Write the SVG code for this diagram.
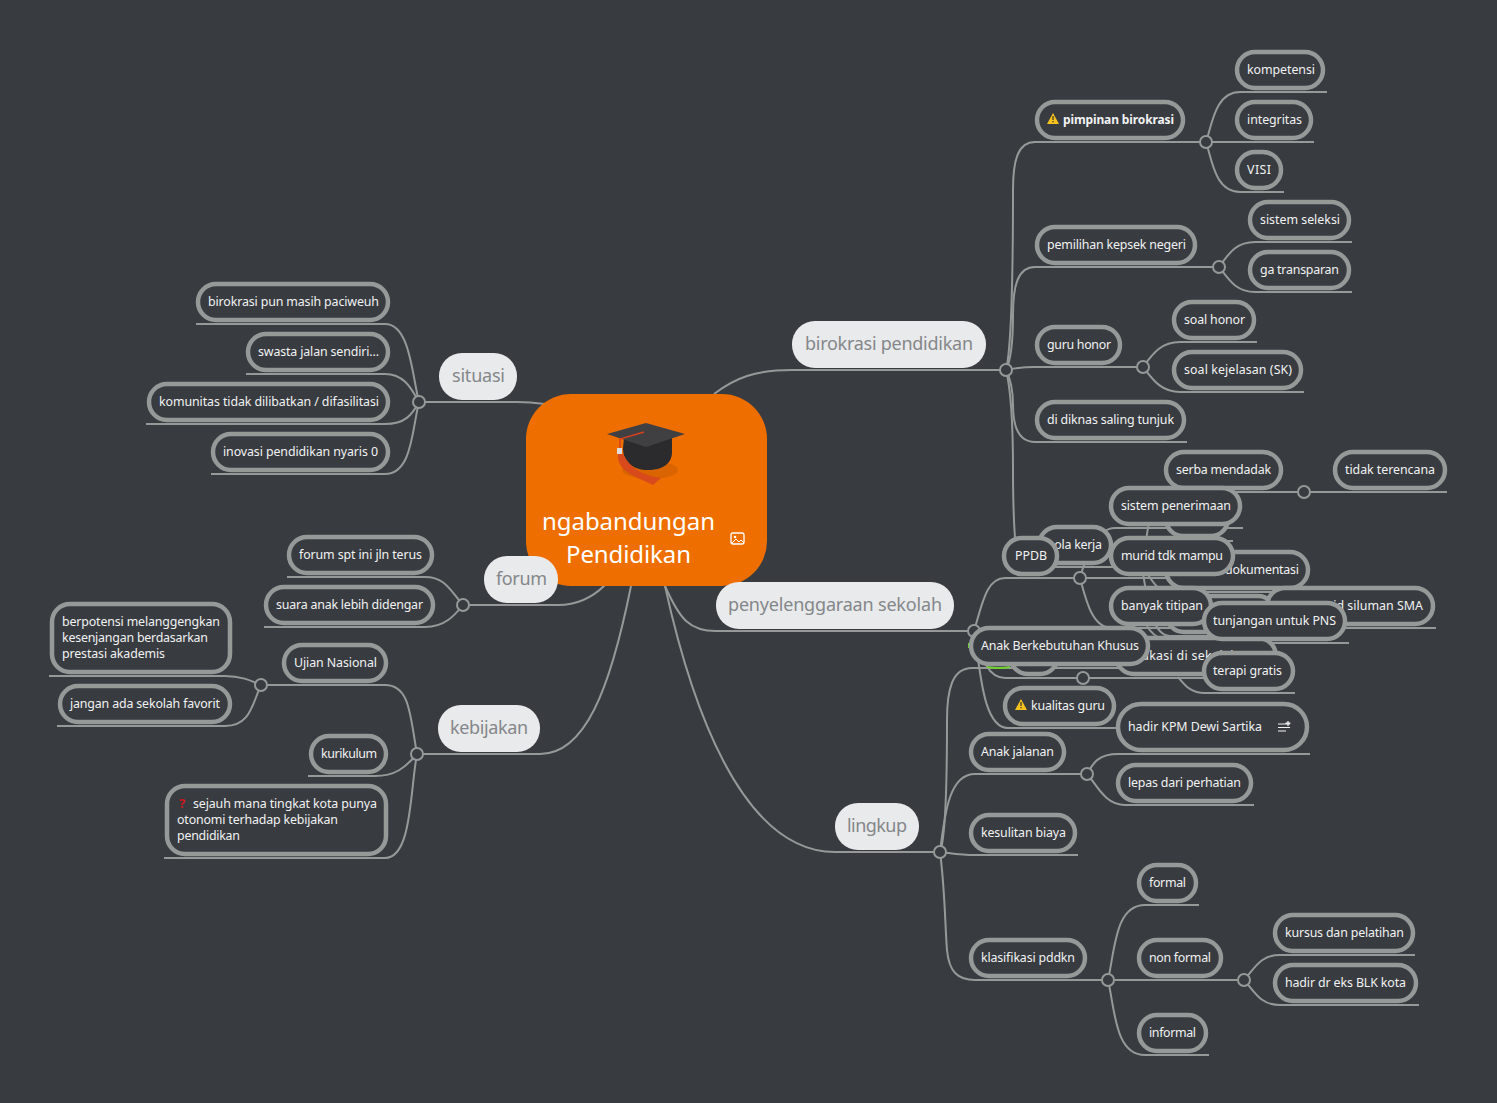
<svg xmlns="http://www.w3.org/2000/svg" width="1497" height="1103" viewBox="0 0 1497 1103">
<style>
text{font-family:"Noto Sans","Liberation Sans",sans-serif}
.p{fill:#383b40;stroke:#959998;stroke-width:4.500}
.t{font-size:12.4px;fill:#f1f2f2}
.h{font-size:18px;fill:#84878a}
.m{fill:#e9eaeb}
#links path{fill:none;stroke:#959998;stroke-width:2}
#links circle{fill:#383b40;stroke:#959998;stroke-width:2}
</style>
<rect width="1497" height="1103" fill="#383b40"/>
<g id="links">
<path d="M714 394C735 378 755 370 792 370H1006"/>
<path d="M1006 370C1011 350 1013 300 1013 190C1013 160 1018 142 1035 142H1206"/>
<path d="M1006 370C1011 360 1013 340 1013 315C1013 285 1018 267 1035 267H1219"/>
<path d="M1006 370C1015 368 1025 367 1035 367H1143"/>
<path d="M1006 370C1011 380 1013 395 1013 405C1013 430 1020 442 1035 442H1187"/>
<path d="M1006 370C1011 390 1013 420 1013 470C1013 510 1014 540 1018 567H1142"/>
<path d="M1206 142C1212 125 1215 92 1240 92H1327"/>
<path d="M1206 142H1314"/>
<path d="M1206 142C1212 160 1215 192 1240 192H1284"/>
<path d="M1219 267C1228 255 1235 242 1255 242H1352"/>
<path d="M1219 267C1228 278 1235 292 1255 292H1352"/>
<path d="M1143 367C1152 355 1160 342 1180 342H1257"/>
<path d="M1143 367C1152 378 1160 392 1180 392H1304"/>
<path d="M1142 567C1148 535 1148 492 1170 492H1447"/>
<path d="M1142 567C1146 550 1150 541 1170 541H1233"/>
<path d="M1142 567C1150 575 1155 592 1170 592H1312"/>
<path d="M1142 567C1146 590 1150 636 1170 636H1272"/>
<path d="M665 586C680 620 690 631 716 631H974"/>
<path d="M974 631C982 605 986 578 1005 578H1235"/>
<path d="M1080 578C1085 560 1095 528 1115 528H1243"/>
<path d="M1080 578C1086 600 1092 628 1112 628H1214"/>
<path d="M1214 628H1436"/>
<path d="M974 631C980 650 985 678 1005 678H1280"/>
<path d="M974 631C980 665 982 728 1008 728H1118"/>
<path d="M1118 754H1310"/>
<path d="M1147 626C1155 640 1165 643 1205 643H1349"/>
<path d="M1178 677C1185 685 1190 693 1205 693H1295"/>
<path d="M665 586C690 700 740 852 835 852H940"/>
<path d="M940 852C945 840 947 800 947 720C947 690 952 668 972 668H1150"/>
<path d="M940 852C945 810 950 774 975 774H1087"/>
<path d="M940 852C950 853 960 855 975 855H1078"/>
<path d="M940 852C945 890 945 925 947 950C949 972 958 980 975 980H1108"/>
<path d="M1087 774C1097 785 1105 805 1125 805H1254"/>
<path d="M1087 774C1092 766 1096 754 1118 754"/>
<path d="M1108 980C1115 950 1115 905 1145 905H1199"/>
<path d="M1108 980H1244"/>
<path d="M1108 980C1115 1010 1115 1055 1145 1055H1209"/>
<path d="M1244 980C1255 968 1260 955 1280 955H1415"/>
<path d="M1244 980C1255 992 1260 1005 1280 1005H1419"/>
<path d="M545 404C530 402 525 402 517 402H419"/>
<path d="M419 402C412 375 410 324 385 324H196"/>
<path d="M419 402C412 390 405 374 385 374H246"/>
<path d="M419 402C412 415 405 424 385 424H146"/>
<path d="M419 402C412 430 412 474 385 474H211"/>
<path d="M605 585C590 600 575 605 558 605H463"/>
<path d="M463 605C450 590 445 577 425 577H287"/>
<path d="M463 605C455 615 445 627 425 627H264"/>
<path d="M631 586C610 690 585 754 540 754H417"/>
<path d="M417 754C410 715 410 685 385 685H261"/>
<path d="M417 754C405 768 395 776 375 776H308"/>
<path d="M417 754C410 790 412 858 385 858H164"/>
<path d="M261 685C250 680 240 676 225 676H49"/>
<path d="M261 685C252 705 250 726 225 726H57"/>
<path d="M969 643V648M987 667Q1000 669 1010 667" style="stroke:#6fd12b"/>
<circle cx="1006" cy="370" r="6"/><circle cx="1206" cy="142" r="6"/><circle cx="1219" cy="267" r="6"/><circle cx="1143" cy="367" r="6"/><circle cx="1304" cy="492" r="6"/>
<circle cx="1080" cy="578" r="6"/><circle cx="974" cy="631" r="6"/><circle cx="1083" cy="678" r="6"/>
<circle cx="940" cy="852" r="6"/><circle cx="1087" cy="774" r="6"/><circle cx="1108" cy="980" r="6"/><circle cx="1244" cy="980" r="6"/>
<circle cx="419" cy="402" r="6"/><circle cx="463" cy="605" r="6"/><circle cx="417" cy="754" r="6"/><circle cx="261" cy="685" r="6"/>
</g>
<g id="center">
<rect x="526" y="394" width="241" height="192" rx="45" fill="#ee6f00"/>
<ellipse cx="650" cy="470" rx="28" ry="9" fill="#d96400"/>
<path d="M624 438H672V452C672 464 662 470 648 470C633 470 623 462 623 448Z" fill="#2b2b2d"/>
<polygon points="607,434 646,423 685,434 646,447" fill="#404043"/>
<path d="M644 432L620 439V450" fill="none" stroke="#d8401c" stroke-width="1.500"/>
<rect x="617" y="448" width="5" height="6" fill="#ddd"/>
<path d="M618 454C617 466 625 472 640 479L653 485L661 478C648 476 632 472 623 454Z" fill="#d84a1c"/>
<text x="628.500" y="530" text-anchor="middle" style="font-size:24px;fill:#fff" textLength="173">ngabandungan</text>
<text x="628.500" y="563" text-anchor="middle" style="font-size:24px;fill:#fff" textLength="125">Pendidikan</text>
<rect x="731" y="533" width="13" height="11" rx="2" fill="none" stroke="#fff" stroke-width="1.300"/>
<circle cx="735" cy="537" r="1.300" fill="#fff"/>
<path d="M732 543L736 539L739 542L741 540L744 543" fill="none" stroke="#fff"/>
</g>
<g id="n-birokrasi"><rect class="m" x="792" y="321" width="194" height="47" rx="23"/><text class="h" x="805" y="350" textLength="168">birokrasi pendidikan</text></g>
<g id="n-penyelenggaraan"><rect class="m" x="716" y="582" width="238" height="47" rx="23"/><text class="h" x="728" y="611" textLength="214">penyelenggaraan sekolah</text></g>
<g id="n-lingkup"><rect class="m" x="835" y="803" width="84" height="47" rx="23"/><text class="h" x="847" y="832" textLength="60">lingkup</text></g>
<g id="n-situasi"><rect class="m" x="439" y="353" width="78" height="47" rx="23"/><text class="h" x="452" y="382" textLength="53">situasi</text></g>
<g id="n-forum"><rect class="m" x="484" y="556" width="74" height="47" rx="23"/><text class="h" x="496" y="585" textLength="51">forum</text></g>
<g id="n-kebijakan"><rect class="m" x="438" y="705" width="102" height="47" rx="23"/><text class="h" x="450" y="734" textLength="78">kebijakan</text></g>

<g id="n1"><rect class="p" x="1237" y="52" width="86" height="36" rx="18"/><text class="t" x="1247" y="74" textLength="68">kompetensi</text></g>
<g id="n2"><rect class="p" x="1237" y="102" width="74" height="36" rx="18"/><text class="t" x="1247" y="124" textLength="55">integritas</text></g>
<g id="n3"><rect class="p" x="1237" y="152" width="44" height="36" rx="18"/><text class="t" x="1247" y="174" textLength="24">VISI</text></g>
<g id="n4"><rect class="p" x="1037" y="102" width="146" height="36" rx="18"/><path d="M1053 113L1059 124H1047Z" fill="#f6c21c"/><rect x="1052.400" y="116" width="1.200" height="4" fill="#333"/><rect x="1052.400" y="121" width="1.200" height="1.300" fill="#333"/><text class="t" x="1063" y="124" textLength="111" style="font-weight:700;font-size:12px">pimpinan birokrasi</text></g>
<g id="n5"><rect class="p" x="1037" y="227" width="158" height="36" rx="18"/><text class="t" x="1047" y="249" textLength="139">pemilihan kepsek negeri</text></g>
<g id="n6"><rect class="p" x="1250" y="202" width="99" height="36" rx="18"/><text class="t" x="1260" y="224" textLength="80">sistem seleksi</text></g>
<g id="n7"><rect class="p" x="1250" y="252" width="99" height="36" rx="18"/><text class="t" x="1260" y="274" textLength="79">ga transparan</text></g>
<g id="n8"><rect class="p" x="1037" y="327" width="83" height="36" rx="18"/><text class="t" x="1047" y="349" textLength="64">guru honor</text></g>
<g id="n9"><rect class="p" x="1174" y="302" width="80" height="36" rx="18"/><text class="t" x="1184" y="324" textLength="61">soal honor</text></g>
<g id="n10"><rect class="p" x="1174" y="352" width="127" height="36" rx="18"/><text class="t" x="1184" y="374" textLength="108">soal kejelasan (SK)</text></g>
<g id="n11"><rect class="p" x="1037" y="402" width="147" height="36" rx="18"/><text class="t" x="1047" y="424" textLength="127">di diknas saling tunjuk</text></g>
<g id="n12"><rect class="p" x="1166" y="452" width="115" height="36" rx="18"/><text class="t" x="1176" y="474" textLength="95">serba mendadak</text></g>
<g id="n13"><rect class="p" x="1335" y="452" width="110" height="36" rx="18"/><text class="t" x="1345" y="474" textLength="90">tidak terencana</text></g>
<g id="n14"><rect class="p" x="1166" y="502" width="62" height="34" rx="17"/></g>
<g id="n15"><rect class="p" x="1039" y="527" width="72" height="36" rx="18"/><text class="t" x="1047" y="549" textLength="55">pola kerja</text></g>
<g id="n16"><rect class="p" x="1166" y="552" width="142" height="36" rx="18"/><text class="t" x="1225" y="574" textLength="74">dokumentasi</text></g>
<g id="n17"><rect class="p" x="1166" y="596" width="110" height="36" rx="18"/></g>
<g id="n18"><rect class="p" x="1267" y="588" width="166" height="36" rx="18"/><text class="t" x="1277" y="610" textLength="146">2000 murid siluman SMA</text></g>
<g id="n19"><rect class="p" x="1111" y="488" width="129" height="36" rx="18"/><text class="t" x="1121" y="510" textLength="110">sistem penerimaan</text></g>
<g id="n20"><rect class="p" x="1004" y="538" width="53" height="36" rx="18"/><text class="t" x="1015" y="560" textLength="32">PPDB</text></g>
<g id="n21"><rect class="p" x="1111" y="538" width="122" height="36" rx="18"/><text class="t" x="1121" y="560" textLength="102">murid tdk mampu</text></g>
<g id="n22"><rect class="p" x="1111" y="588" width="100" height="36" rx="18"/><text class="t" x="1121" y="610" textLength="82">banyak titipan</text></g>
<g id="n23"><rect class="p" x="1010" y="638" width="48" height="36" rx="18"/></g>
<g id="n24"><rect class="p" x="1116" y="638" width="160" height="36" rx="18"/><text class="t" x="1126" y="660" textLength="112">edukasi di sekolah</text></g>
<g id="n25"><rect class="p" x="971" y="628" width="177" height="36" rx="18"/><text class="t" x="981" y="650" textLength="158">Anak Berkebutuhan Khusus</text></g>
<g id="n26"><rect class="p" x="1204" y="603" width="141" height="36" rx="18"/><text class="t" x="1213" y="625" textLength="123">tunjangan untuk PNS</text></g>
<g id="n27"><rect class="p" x="1204" y="653" width="89" height="36" rx="18"/><text class="t" x="1213" y="675" textLength="69">terapi gratis</text></g>
<g id="n28"><rect class="p" x="1005" y="688" width="109" height="36" rx="18"/><path d="M1021 699L1027 710H1015Z" fill="#f6c21c"/><rect x="1020.400" y="702" width="1.200" height="4" fill="#333"/><rect x="1020.400" y="707" width="1.200" height="1.300" fill="#333"/><text class="t" x="1031" y="710" textLength="74">kualitas guru</text></g>
<g id="n29"><rect class="p" x="1118" y="704" width="189" height="46" rx="23"/><text class="t" x="1128" y="731" textLength="134">hadir KPM Dewi Sartika</text><path d="M1278 724H1290M1278 727.500H1290M1278 731H1286M1288 726V721M1285.500 723H1290.500" fill="none" stroke="#f1f2f2" stroke-width="1.200"/></g>
<g id="n30"><rect class="p" x="971" y="734" width="93" height="36" rx="18"/><text class="t" x="981" y="756" textLength="73">Anak jalanan</text></g>
<g id="n31"><rect class="p" x="1118" y="765" width="133" height="36" rx="18"/><text class="t" x="1128" y="787" textLength="113">lepas dari perhatian</text></g>
<g id="n32"><rect class="p" x="971" y="815" width="104" height="36" rx="18"/><text class="t" x="981" y="837" textLength="85">kesulitan biaya</text></g>
<g id="n33"><rect class="p" x="1139" y="865" width="57" height="36" rx="18"/><text class="t" x="1149" y="887" textLength="37">formal</text></g>
<g id="n34"><rect class="p" x="1139" y="940" width="82" height="36" rx="18"/><text class="t" x="1149" y="962" textLength="62">non formal</text></g>
<g id="n35"><rect class="p" x="1139" y="1015" width="67" height="36" rx="18"/><text class="t" x="1149" y="1037" textLength="47">informal</text></g>
<g id="n36"><rect class="p" x="971" y="940" width="114" height="36" rx="18"/><text class="t" x="981" y="962" textLength="94">klasifikasi pddkn</text></g>
<g id="n37"><rect class="p" x="1275" y="915" width="138" height="36" rx="18"/><text class="t" x="1285" y="937" textLength="119">kursus dan pelatihan</text></g>
<g id="n38"><rect class="p" x="1275" y="965" width="141" height="36" rx="18"/><text class="t" x="1285" y="987" textLength="121">hadir dr eks BLK kota</text></g>

<g id="n39"><rect class="p" x="198" y="284" width="190" height="36" rx="18"/><text class="t" x="208" y="306" textLength="171">birokrasi pun masih paciweuh</text></g>
<g id="n40"><rect class="p" x="248" y="334" width="140" height="36" rx="18"/><text class="t" x="258" y="356" textLength="121">swasta jalan sendiri...</text></g>
<g id="n41"><rect class="p" x="149" y="384" width="239" height="36" rx="18"/><text class="t" x="159" y="406" textLength="220">komunitas tidak dilibatkan / difasilitasi</text></g>
<g id="n42"><rect class="p" x="213" y="434" width="175" height="36" rx="18"/><text class="t" x="223" y="456" textLength="155">inovasi pendidikan nyaris 0</text></g>
<g id="n43"><rect class="p" x="289" y="537" width="143" height="36" rx="18"/><text class="t" x="299" y="559" textLength="123">forum spt ini jln terus</text></g>
<g id="n44"><rect class="p" x="266" y="587" width="167" height="36" rx="18"/><text class="t" x="276" y="609" textLength="147">suara anak lebih didengar</text></g>
<g id="n45"><rect class="p" x="52" y="604" width="178" height="68" rx="18"/><text class="t" x="62" y="626" textLength="158">berpotensi melanggengkan</text><text class="t" x="62" y="642" textLength="146">kesenjangan berdasarkan</text><text class="t" x="62" y="658" textLength="103">prestasi akademis</text></g>
<g id="n46"><rect class="p" x="60" y="686" width="170" height="36" rx="18"/><text class="t" x="70" y="708" textLength="150">jangan ada sekolah favorit</text></g>
<g id="n47"><rect class="p" x="284" y="645" width="102" height="36" rx="18"/><text class="t" x="294" y="667" textLength="83">Ujian Nasional</text></g>
<g id="n48"><rect class="p" x="311" y="736" width="75" height="36" rx="18"/><text class="t" x="321" y="758" textLength="56">kurikulum</text></g>
<g id="n49"><rect class="p" x="167" y="786" width="219" height="68" rx="18"/><text x="179" y="808" style="font-size:13px;font-weight:700;fill:#cc1a1a">?</text><text class="t" x="193" y="808" textLength="184">sejauh mana tingkat kota punya</text><text class="t" x="177" y="824" textLength="161">otonomi terhadap kebijakan</text><text class="t" x="177" y="840" textLength="63">pendidikan</text></g>
</svg>
